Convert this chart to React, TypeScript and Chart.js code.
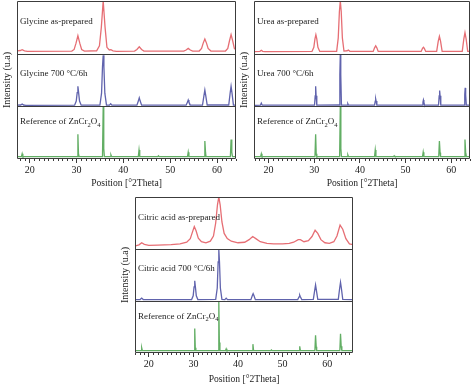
import React, { useEffect, useRef } from "react";
import { Chart, registerables } from "chart.js";
Chart.register(...registerables);

type Pt = [number, number];

// Intensities are read as a fraction of each stacked sub-panel (0 = bottom, 1 = top)
const referenceZnCr2O4: Pt[] = [
  [17, 0.045], [18.25, 0.045], [18.4, 0.1], [18.55, 0.045],
  [30.15, 0.045], [30.3, 0.47], [30.42, 0.1], [30.55, 0.045],
  [35.55, 0.045], [35.7, 1.0], [35.82, 0.2], [35.95, 0.045],
  [37.2, 0.045], [37.35, 0.08], [37.5, 0.045],
  [43.2, 0.045], [43.35, 0.17], [43.5, 0.045],
  [47.35, 0.045], [47.5, 0.06], [47.65, 0.045],
  [53.7, 0.045], [53.85, 0.13], [54.0, 0.045],
  [57.25, 0.045], [57.4, 0.34], [57.55, 0.12], [57.65, 0.045],
  [62.85, 0.045], [63.0, 0.37], [63.15, 0.13], [63.3, 0.045], [66, 0.045],
];

const glycinePrepared: Pt[] = [
  [17, 0.05], [18.0, 0.06], [18.4, 0.075], [18.9, 0.055], [19.5, 0.045],
  [29.0, 0.048], [29.5, 0.08], [29.9, 0.2], [30.3, 0.34], [30.7, 0.2], [31.1, 0.08], [31.7, 0.05],
  [34.3, 0.055], [34.9, 0.15], [35.3, 0.5], [35.7, 1.0], [36.1, 0.5], [36.5, 0.12], [37.0, 0.07],
  [37.35, 0.075], [37.8, 0.055], [38.5, 0.045],
  [42.4, 0.048], [42.9, 0.08], [43.4, 0.13], [43.9, 0.08], [44.4, 0.048],
  [52.9, 0.048], [53.4, 0.07], [53.85, 0.1], [54.3, 0.07], [54.8, 0.048],
  [56.2, 0.05], [56.7, 0.1], [57.05, 0.2], [57.4, 0.28], [57.75, 0.2], [58.1, 0.1], [58.7, 0.05],
  [61.8, 0.05], [62.3, 0.1], [62.65, 0.24], [63.0, 0.36], [63.35, 0.24], [63.7, 0.1], [64.3, 0.05], [66, 0.045],
];

const glycine700: Pt[] = [
  [17, 0.02], [18.1, 0.025], [18.4, 0.045], [18.7, 0.025], [19.2, 0.02],
  [29.6, 0.022], [29.95, 0.1], [30.15, 0.26], [30.3, 0.38], [30.45, 0.26], [30.65, 0.1], [31.0, 0.022],
  [35.0, 0.025], [35.35, 0.25], [35.55, 0.75], [35.7, 0.97], [35.85, 0.75], [36.05, 0.25], [36.4, 0.025],
  [37.05, 0.022], [37.3, 0.05], [37.55, 0.022],
  [42.9, 0.022], [43.2, 0.1], [43.4, 0.16], [43.6, 0.1], [43.9, 0.022],
  [53.4, 0.022], [53.7, 0.08], [53.85, 0.12], [54.0, 0.08], [54.3, 0.022],
  [56.9, 0.025], [57.2, 0.2], [57.4, 0.31], [57.6, 0.2], [57.9, 0.025],
  [62.5, 0.025], [62.8, 0.25], [63.0, 0.38], [63.2, 0.25], [63.5, 0.025], [66, 0.02],
];

const ureaPrepared: Pt[] = [
  [17, 0.04], [18.1, 0.045], [18.4, 0.065], [18.7, 0.045], [19.2, 0.04],
  [29.5, 0.042], [29.9, 0.12], [30.15, 0.28], [30.35, 0.36], [30.55, 0.28], [30.8, 0.12], [31.2, 0.042],
  [34.9, 0.045], [35.25, 0.3], [35.5, 0.8], [35.7, 1.0], [35.9, 0.8], [36.15, 0.3], [36.5, 0.05],
  [37.2, 0.055], [37.45, 0.07], [37.8, 0.045],
  [42.9, 0.042], [43.2, 0.11], [43.45, 0.15], [43.7, 0.11], [44.0, 0.042],
  [53.4, 0.042], [53.7, 0.1], [53.9, 0.12], [54.1, 0.1], [54.4, 0.042],
  [56.8, 0.045], [57.15, 0.24], [57.4, 0.33], [57.65, 0.24], [58.0, 0.045],
  [62.4, 0.045], [62.75, 0.28], [63.0, 0.4], [63.25, 0.28], [63.6, 0.045], [66, 0.04],
];

const urea700: Pt[] = [
  [17, 0.02], [18.2, 0.022], [18.4, 0.06], [18.6, 0.022],
  [30.05, 0.022], [30.2, 0.2], [30.3, 0.38], [30.4, 0.2], [30.55, 0.022],
  [35.45, 0.025], [35.6, 0.6], [35.7, 0.98], [35.8, 0.6], [35.95, 0.025],
  [37.2, 0.022], [37.35, 0.05], [37.5, 0.022],
  [43.2, 0.022], [43.35, 0.1], [43.45, 0.14], [43.55, 0.1], [43.7, 0.022],
  [53.65, 0.022], [53.8, 0.08], [53.9, 0.12], [54.0, 0.08], [54.15, 0.022],
  [57.2, 0.022], [57.35, 0.2], [57.45, 0.3], [57.55, 0.2], [57.7, 0.022],
  [62.8, 0.022], [62.95, 0.22], [63.05, 0.35], [63.15, 0.22], [63.3, 0.022], [66, 0.02],
];

const citricPrepared: Pt[] = [
  [17, 0.06], [17.8, 0.08], [18.4, 0.12], [19.0, 0.09], [20, 0.07], [22, 0.075], [25, 0.085], [27, 0.1],
  [28.5, 0.13], [29.3, 0.2], [29.8, 0.33], [30.2, 0.43], [30.6, 0.35], [31.1, 0.21], [31.8, 0.14],
  [32.8, 0.12], [33.8, 0.15], [34.5, 0.25], [35.0, 0.5], [35.4, 0.85], [35.7, 1.0], [36.0, 0.85],
  [36.4, 0.52], [36.9, 0.3], [37.6, 0.2], [38.5, 0.15], [40, 0.12], [41.5, 0.13], [42.5, 0.18],
  [43.3, 0.24], [44.0, 0.2], [45, 0.14], [46.5, 0.11], [48, 0.1], [50, 0.1], [51.5, 0.11], [52.5, 0.13],
  [53.5, 0.18], [54.0, 0.18], [54.8, 0.14], [55.8, 0.16], [56.6, 0.24], [57.3, 0.36], [57.9, 0.3],
  [58.6, 0.18], [59.5, 0.12], [60.5, 0.11], [61.5, 0.14], [62.2, 0.25], [62.9, 0.46], [63.5, 0.38],
  [64.2, 0.2], [65, 0.1], [66, 0.08],
];

const citric700: Pt[] = [
  [17, 0.025], [18.05, 0.028], [18.4, 0.055], [18.75, 0.028], [19.3, 0.025],
  [29.6, 0.027], [29.95, 0.1], [30.15, 0.27], [30.3, 0.39], [30.45, 0.27], [30.65, 0.1], [31.0, 0.027],
  [35.0, 0.03], [35.35, 0.25], [35.55, 0.75], [35.7, 0.99], [35.85, 0.75], [36.05, 0.25], [36.4, 0.03],
  [37.05, 0.027], [37.35, 0.055], [37.65, 0.027],
  [42.9, 0.027], [43.2, 0.1], [43.4, 0.14], [43.6, 0.1], [43.9, 0.027],
  [53.4, 0.027], [53.7, 0.08], [53.85, 0.11], [54.0, 0.08], [54.3, 0.027],
  [56.9, 0.03], [57.2, 0.2], [57.4, 0.31], [57.6, 0.2], [57.9, 0.03],
  [62.5, 0.03], [62.8, 0.24], [63.0, 0.36], [63.2, 0.24], [63.5, 0.03], [66, 0.025],
];

const xTitle = "Position [°2Theta]";
const yTitle = "Intensity (u.a)";
const glycineLabels = ["Glycine as-prepared", "Glycine 700 °C/6h"];
const ureaLabels = ["Urea as-prepared", "Urea 700 °C/6h"];
const citricLabels = ["Citric acid as-prepared", "Citric acid 700 °C/6h"];
const referenceLabel: [string, boolean][] = [["Reference of ZnCr", false], ["2", true], ["O", false], ["4", true]];
const labelLevels = [2.6, 1.63, 0.7];

const SERIF = "'Liberation Serif', 'Times New Roman', serif";
const RED = "#e66e74";
const BLUE = "#6063ad";
const GREEN = "#62ae64";
const FRAME = "#3c3c3c";
const TEXT = "#1c1c1c";

type PanelCfg = {
  left: number; top: number; xMin: number; xMax: number; padRight: number; xAxisH: number;
  labels: string[]; prepared: Pt[]; calcined: Pt[];
};

const panels: PanelCfg[] = [
  { left: 0, top: 0, xMin: 17.3, xMax: 64.05, padRight: 1, xAxisH: 31, labels: glycineLabels, prepared: glycinePrepared, calcined: glycine700 },
  { left: 237, top: 0, xMin: 16.8, xMax: 64.1, padRight: 4, xAxisH: 31, labels: ureaLabels, prepared: ureaPrepared, calcined: urea700 },
  { left: 118, top: 196, xMin: 16.9, xMax: 65.8, padRight: 2, xAxisH: 33, labels: citricLabels, prepared: citricPrepared, calcined: citric700 },
];

const toData = (pts: Pt[], offset: number) => pts.map(([x, y]) => ({ x, y: y + offset }));

function Panel({ cfg }: { cfg: PanelCfg }) {
  const ref = useRef<HTMLCanvasElement>(null);
  useEffect(() => {
    if (!ref.current) return;
    const decor = {
      id: "decor",
      afterDatasetsDraw(chart: any) {
        const { ctx, chartArea, scales } = chart;
        const { left, right, top, bottom } = chartArea;
        const x = scales.x, y = scales.y;
        ctx.save();
        ctx.strokeStyle = FRAME;
        ctx.lineWidth = 1;
        ctx.beginPath();
        ctx.rect(Math.round(left) + 0.5, Math.round(top) + 0.5, Math.round(right - left) - 1, Math.round(bottom - top) - 1);
        [1, 2].forEach((v) => {
          const py = Math.round(y.getPixelForValue(v)) + 0.5;
          ctx.moveTo(left, py);
          ctx.lineTo(right, py);
        });
        for (let d = Math.ceil(x.min); d <= x.max; d++) {
          if (d % 10 === 0) continue;
          const px = Math.round(x.getPixelForValue(d)) + 0.5;
          ctx.moveTo(px, bottom);
          ctx.lineTo(px, bottom + 2);
        }
        ctx.stroke();
        ctx.fillStyle = TEXT;
        ctx.font = `9px ${SERIF}`;
        ctx.textBaseline = "middle";
        ctx.textAlign = "left";
        const tx = left + 3;
        ctx.fillText(cfg.labels[0], tx, y.getPixelForValue(labelLevels[0]));
        ctx.fillText(cfg.labels[1], tx, y.getPixelForValue(labelLevels[1]));
        let cx = tx;
        const ry = y.getPixelForValue(labelLevels[2]);
        referenceLabel.forEach(([t, sub]) => {
          ctx.font = sub ? `6.5px ${SERIF}` : `9px ${SERIF}`;
          ctx.fillText(t, cx, sub ? ry + 3 : ry);
          cx += ctx.measureText(t).width;
        });
        ctx.restore();
      },
    };
    const chart = new Chart(ref.current, {
      type: "line",
      data: {
        datasets: [
          { data: toData(cfg.prepared, 2), borderColor: RED },
          { data: toData(cfg.calcined, 1), borderColor: BLUE },
          { data: toData(referenceZnCr2O4, 0), borderColor: GREEN },
        ].map((d) => ({ ...d, borderWidth: 1.3, pointRadius: 0, tension: 0, fill: false })),
      },
      options: {
        animation: false,
        responsive: false,
        devicePixelRatio: 1,
        layout: { padding: { left: 0, right: cfg.padRight, top: 1, bottom: 0 } },
        plugins: { legend: { display: false }, tooltip: { enabled: false } },
        scales: {
          x: {
            type: "linear",
            min: cfg.xMin,
            max: cfg.xMax,
            afterFit: (s: any) => { s.height = cfg.xAxisH; },
            border: { display: false },
            grid: { display: true, drawOnChartArea: false, drawTicks: true, tickLength: 4, tickColor: FRAME, color: FRAME },
            ticks: { stepSize: 10, includeBounds: false, padding: 1, color: TEXT, font: { family: SERIF, size: 10 }, maxRotation: 0 },
            title: { display: true, text: xTitle, color: TEXT, font: { family: SERIF, size: 9.6 }, padding: { top: 0, bottom: 1 } },
          },
          y: {
            type: "linear",
            min: 0,
            max: 3,
            afterFit: (s: any) => { s.width = 17; },
            border: { display: false },
            grid: { display: false },
            ticks: { display: false },
            title: { display: true, text: yTitle, color: TEXT, font: { family: SERIF, size: 10 }, padding: { top: 1, bottom: 0 } },
          },
        },
      },
      plugins: [decor],
    });
    return () => chart.destroy();
  }, [cfg]);
  return (
    <canvas
      ref={ref}
      width={237}
      height={190}
      style={{ position: "absolute", left: cfg.left, top: cfg.top, width: 237, height: 190 }}
    />
  );
}

export default function App() {
  return (
    <div style={{ position: "fixed", left: 0, top: 0, width: 474, height: 387, background: "#fff", overflow: "hidden" }}>
      {panels.map((p, i) => (
        <Panel key={i} cfg={p} />
      ))}
    </div>
  );
}
